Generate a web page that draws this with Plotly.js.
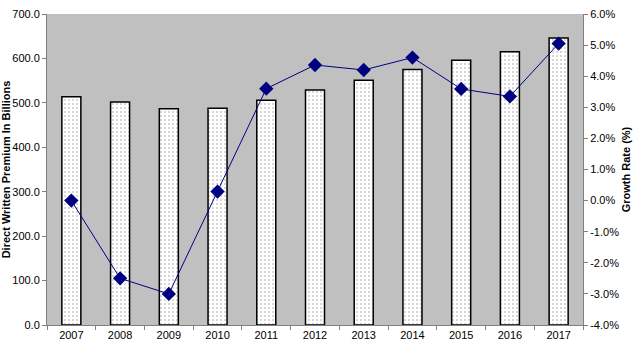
<!DOCTYPE html>
<html>
<head>
<meta charset="utf-8">
<script src="https://cdn.plot.ly/plotly-3.0.1.min.js"></script>
<style>html,body{margin:0;padding:0;background:#fff;}#chart{width:640px;height:350px;}</style>
</head>
<body>
<div id="chart"></div>
<script>
const years = ['2007','2008','2009','2010','2011','2012','2013','2014','2015','2016','2017'];
const premium = [514, 502, 487, 488, 506, 529, 551, 575, 596, 615, 646];
const growth = [0.0, -2.5, -3.0, 0.29, 3.6, 4.36, 4.2, 4.6, 3.59, 3.35, 5.05];
const leftTicks = [0,100,200,300,400,500,600,700];
const rightTicks = [-4,-3,-2,-1,0,1,2,3,4,5,6];
const rightTickText = ['-4.0%','-3.0%','-2.0%','-1.0%','0.0%','1.0%','2.0%','3.0%','4.0%','5.0%','6.0%'];

const traces = [
  {
    type: 'bar', x: years, y: premium, yaxis: 'y',
    marker: {
      color: '#ffffff',
      line: {color: '#000000', width: 1.5},
      pattern: {shape: '.', fgcolor: '#8a8a8a', bgcolor: '#ffffff', size: 4, solidity: 0.08}
    },
    hoverinfo: 'skip'
  },
  {
    type: 'scatter', mode: 'lines+markers', x: years, y: growth, yaxis: 'y2',
    line: {color: '#000080', width: 1},
    marker: {symbol: 'diamond', size: 11, color: '#000080'},
    hoverinfo: 'skip'
  }
];

const font = {family: '"Liberation Sans", Arial, sans-serif', size: 11, color: '#000'};
const layout = {
  width: 640, height: 350,
  margin: {l: 47, r: 57, t: 14, b: 25},
  paper_bgcolor: '#ffffff', plot_bgcolor: '#c0c0c0',
  showlegend: false, bargap: 0.61,
  font: font,
  xaxis: {
    type: 'category', range: [-0.5, years.length - 0.5], tickson: 'boundaries', ticks: 'outside', ticklen: 4, tickcolor: '#808080',
    showline: true, linecolor: '#808080', showgrid: false, tickfont: font, automargin: false
  },
  yaxis: {
    range: [0, 700], tickvals: leftTicks, tickformat: '.1f', ticks: 'outside', ticklen: 4,
    tickcolor: '#808080', showline: true, linecolor: '#808080', showgrid: false, zeroline: false,
    tickfont: font, automargin: false,
    title: {text: '<b>Direct Written Premium In Billions</b>', font: {family: font.family, size: 11, color: '#000'}, standoff: 6}
  },
  yaxis2: {
    overlaying: 'y', side: 'right', range: [-4, 6], tickvals: rightTicks, ticktext: rightTickText,
    ticks: 'outside', ticklen: 4, tickcolor: '#808080', showline: true, linecolor: '#808080',
    showgrid: false, zeroline: false, tickfont: font, automargin: false,
    title: {text: '<b>Growth Rate (%)</b>', font: {family: font.family, size: 11, color: '#000'}, standoff: 4}
  }
};

Plotly.newPlot('chart', traces, layout, {displayModeBar: false, staticPlot: true});
</script>
</body>
</html>
